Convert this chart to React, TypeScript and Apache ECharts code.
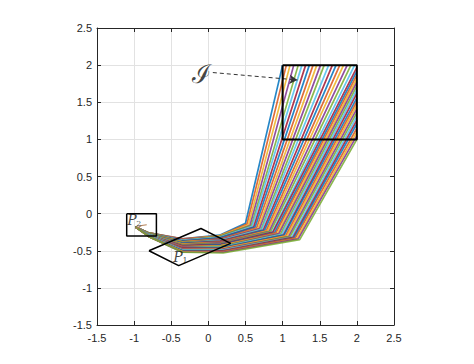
import React, { useEffect, useRef } from "react";
import * as echarts from "echarts";

// axis ticks
const xTicks = { min: -1.5, max: 2.5, step: 0.5 };
const yTicks = { min: -1.5, max: 2.5, step: 0.5 };

// trajectory family: shared start, bend, low point, mid, knee, end
const startXY = [-0.98, -0.18];
const bendX = -0.8;
const bendY = [-0.26,-0.26,-0.26,-0.26,-0.26,-0.27,-0.27,-0.27,-0.27,-0.27,-0.27,-0.27,-0.28,-0.28,-0.28,-0.28,-0.28,-0.28,-0.28,-0.28,-0.29,-0.29,-0.29,-0.29,-0.29,-0.29,-0.29,-0.30,-0.30,-0.30,-0.30,-0.30,-0.30,-0.30,-0.31,-0.31,-0.31,-0.31,-0.31,-0.31];
const lowX = -0.35;
const lowY = [-0.34,-0.34,-0.35,-0.35,-0.36,-0.36,-0.37,-0.37,-0.38,-0.38,-0.39,-0.39,-0.40,-0.40,-0.40,-0.41,-0.41,-0.42,-0.42,-0.43,-0.43,-0.44,-0.44,-0.45,-0.45,-0.46,-0.46,-0.46,-0.47,-0.47,-0.48,-0.48,-0.49,-0.49,-0.50,-0.50,-0.51,-0.51,-0.52,-0.52];
const midX = [0.15,0.15,0.15,0.15,0.15,0.15,0.15,0.15,0.16,0.16,0.16,0.16,0.16,0.16,0.16,0.16,0.17,0.17,0.17,0.17,0.17,0.17,0.17,0.17,0.18,0.18,0.18,0.18,0.18,0.18,0.18,0.18,0.19,0.19,0.19,0.19,0.19,0.19,0.20,0.20];
const midY = [-0.29,-0.30,-0.30,-0.31,-0.31,-0.32,-0.33,-0.33,-0.34,-0.35,-0.35,-0.36,-0.36,-0.37,-0.38,-0.38,-0.39,-0.39,-0.40,-0.41,-0.41,-0.42,-0.43,-0.43,-0.44,-0.44,-0.45,-0.46,-0.46,-0.47,-0.47,-0.48,-0.49,-0.49,-0.50,-0.51,-0.51,-0.52,-0.52,-0.53];
const kneeX = [0.50,0.52,0.54,0.56,0.58,0.59,0.61,0.63,0.65,0.67,0.69,0.71,0.72,0.74,0.76,0.78,0.80,0.82,0.84,0.86,0.87,0.89,0.91,0.93,0.95,0.97,0.99,1.01,1.02,1.04,1.06,1.08,1.10,1.12,1.14,1.15,1.17,1.19,1.21,1.23];
const kneeY = [-0.13,-0.14,-0.15,-0.16,-0.16,-0.17,-0.18,-0.18,-0.19,-0.20,-0.20,-0.21,-0.21,-0.22,-0.22,-0.23,-0.23,-0.24,-0.24,-0.25,-0.25,-0.26,-0.26,-0.27,-0.27,-0.28,-0.28,-0.29,-0.29,-0.30,-0.30,-0.31,-0.31,-0.32,-0.32,-0.33,-0.33,-0.34,-0.34,-0.35];
const endX = [1.00,1.05,1.10,1.15,1.21,1.26,1.31,1.36,1.41,1.46,1.51,1.56,1.62,1.67,1.72,1.77,1.82,1.87,1.92,1.97,2,2,2,2,2,2,2,2,2,2,2,2,2,2,2,2,2,2,2,2];
const endY = [2,2,2,2,2,2,2,2,2,2,2,2,2,2,2,2,2,2,2,2,1.97,1.92,1.87,1.82,1.77,1.72,1.67,1.62,1.56,1.51,1.46,1.41,1.36,1.31,1.26,1.21,1.15,1.10,1.05,1.00];

// small stray trace inside P2
const strayX = [-0.97, -0.9, -0.83];
const strayY = [-0.2, -0.16, -0.15];

// regions
const boxP2X = [-1.1, -0.7, -0.7, -1.1, -1.1];
const boxP2Y = [0, 0, -0.3, -0.3, 0];
const boxP1X = [-0.8, -0.1, 0.3, -0.4, -0.8];
const boxP1Y = [-0.5, -0.2, -0.4, -0.7, -0.5];
const boxIX = [1, 2, 2, 1, 1];
const boxIY = [2, 2, 1, 1, 2];

// annotations
const arrowFrom = [0.06, 1.9];
const arrowTo = [1.2, 1.8];
const labelI = [-0.09, 1.88];
const labelP2 = [-1.03, -0.08];
const labelP1 = [-0.41, -0.58];

const palette = ["#0072BD", "#D95319", "#EDB120", "#7E2F8E", "#77AC30", "#4DBEEE", "#A2142F"];

export default function App() {
  const ref = useRef<HTMLDivElement>(null);
  useEffect(() => {
    if (!ref.current) return;
    const chart = echarts.init(ref.current, undefined, { renderer: "svg" });
    const zip = (xs: number[], ys: number[]) => xs.map((x, i) => [x, ys[i]]);

    const trajSeries = endX.map((_, i) => ({
      type: "line",
      silent: true,
      showSymbol: false,
      symbol: "none",
      lineStyle: { width: 1.7, color: palette[i % palette.length], opacity: 0.85 },
      data: [
        startXY,
        [bendX, bendY[i]],
        [lowX, lowY[i]],
        [midX[i], midY[i]],
        [kneeX[i], kneeY[i]],
        [endX[i], endY[i]],
      ],
      z: 2,
    }));

    const boxSeries = (xs: number[], ys: number[], w: number) => ({
      type: "line",
      silent: true,
      symbol: "none",
      lineStyle: { width: w, color: "#000" },
      data: zip(xs, ys),
      z: 5,
    });

    const axisCommon = {
      type: "value",
      axisLine: { show: true, onZero: false, lineStyle: { color: "#262626", width: 1 } },
      axisTick: { show: true, inside: true, length: 4, lineStyle: { color: "#262626" } },
    };

    const serif = "DejaVu Serif";
    const pItem = (pos: number[], sub: string) => [
      {
        value: pos,
        label: { formatter: "P", fontFamily: serif, fontStyle: "italic", fontSize: 14, color: "#111" },
      },
      {
        value: pos,
        label: { formatter: sub, fontFamily: serif, fontSize: 8, color: "#111", offset: [7, 4] },
      },
    ];

    chart.setOption({
      animation: false,
      grid: { left: 97, top: 28, width: 297, height: 297 },
      xAxis: [
        {
          ...axisCommon,
          min: xTicks.min, max: xTicks.max, interval: xTicks.step,
          position: "bottom",
          splitLine: { show: true, lineStyle: { color: "#e2e2e2", width: 1 } },
          axisLabel: { color: "#262626", fontSize: 11, fontFamily: "Liberation Sans", margin: 7 },
        },
        {
          ...axisCommon,
          min: xTicks.min, max: xTicks.max, interval: xTicks.step,
          position: "top",
          splitLine: { show: false },
          axisLabel: { show: false },
        },
      ],
      yAxis: [
        {
          ...axisCommon,
          min: yTicks.min, max: yTicks.max, interval: yTicks.step,
          position: "left",
          splitLine: { show: true, lineStyle: { color: "#e2e2e2", width: 1 } },
          axisLabel: { color: "#262626", fontSize: 11, fontFamily: "Liberation Sans", margin: 5 },
        },
        {
          ...axisCommon,
          min: yTicks.min, max: yTicks.max, interval: yTicks.step,
          position: "right",
          splitLine: { show: false },
          axisLabel: { show: false },
        },
      ],
      series: [
        ...trajSeries,
        {
          type: "line",
          silent: true,
          symbol: "none",
          lineStyle: { width: 1.2, color: "#B5835A" },
          data: zip(strayX, strayY),
          z: 3,
        },
        boxSeries(boxP2X, boxP2Y, 1.5),
        boxSeries(boxP1X, boxP1Y, 1.5),
        boxSeries(boxIX, boxIY, 2),
        {
          type: "line",
          silent: true,
          symbol: "none",
          data: [],
          markLine: {
            silent: true,
            symbol: ["none", "arrow"],
            symbolSize: [7, 8],
            label: { show: false },
            lineStyle: { type: [4, 3], color: "#333", width: 1 },
            data: [[{ coord: arrowFrom }, { coord: arrowTo }]],
          },
          z: 6,
        },
        {
          type: "scatter",
          silent: true,
          symbolSize: 0,
          z: 7,
          label: { show: true, position: "inside" },
          data: [
            {
              value: labelI,
              label: { formatter: "ℐ", fontFamily: serif, fontSize: 26, color: "#111" },
            },
            ...pItem(labelP2, "2"),
            ...pItem(labelP1, "1"),
          ],
        },
      ],
    });
    return () => chart.dispose();
  }, []);
  return <div ref={ref} style={{ position: "absolute", left: 0, top: 0, width: 474, height: 364 }} />;
}
